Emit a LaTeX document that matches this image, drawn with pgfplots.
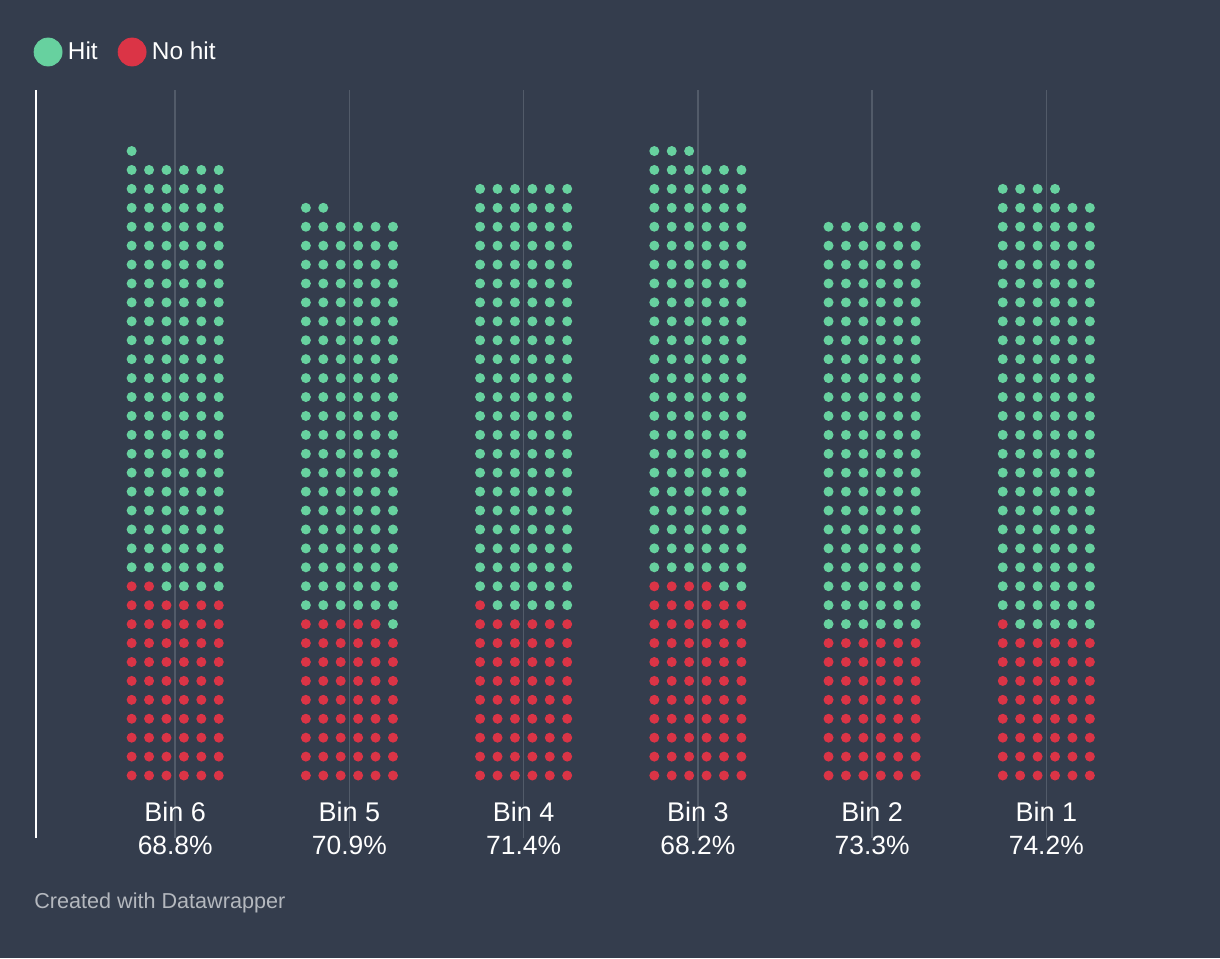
\documentclass[border=0pt]{standalone}
\usepackage{pgfplots}
\pgfplotsset{compat=1.18}
\usepackage{fontspec}
\setmainfont{Liberation Sans}
\definecolor{bg}{HTML}{343D4D}
\definecolor{hit}{HTML}{67D19F}
\definecolor{nohit}{HTML}{DB3446}
\definecolor{gridc}{HTML}{525B69}
\definecolor{foot}{HTML}{B4B8BE}
\begin{document}
\begin{tikzpicture}
\begin{axis}[
  x=87.11pt, y=9.465pt,
  xmin=-1.0056, xmax=5.9970,
  ymin=-9.641, ymax=40.967,
  axis line style={draw=none},
  xtick=\empty, ytick=\empty,
  axis background/.style={fill=bg},
  clip=false,
  unbounded coords=jump,
  dots/.style={line width=5pt, line cap=round, dash pattern=on 0pt off 9.46pt},
  legend columns=2,
  legend style={at={(axis cs:-0.8122,38.22)}, anchor=west, draw=none, fill=none,
    text=white, font=\fontsize{12.2}{14}\selectfont, inner sep=0pt, outer sep=0pt,
    nodes={inner sep=0pt},
    /tikz/every odd column/.append style={column sep=2.7pt},
    /tikz/every even column/.append style={column sep=10pt}},
]
% vertical guides
\pgfplotsinvokeforeach{0,...,5}{
  \draw[gridc, line width=0.75pt] (axis cs:#1,-3.30) -- (axis cs:#1,36.21);
}
\draw[white, line width=1pt] (axis cs:-0.8007,-3.30) -- (axis cs:-0.8007,36.21);

% Hit dots: each segment is one column of dots, from its first row to its last row
\addplot[hit, dots, forget plot] coordinates {
 (-0.25,11) (-0.25,33) (nan,nan) (-0.15,11) (-0.15,32) (nan,nan)
 (-0.05,10) (-0.05,32) (nan,nan) (0.05,10) (0.05,32) (nan,nan)
 (0.15,10) (0.15,32) (nan,nan) (0.25,10) (0.25,32) (nan,nan)
 (0.75,9) (0.75,30) (nan,nan) (0.85,9) (0.85,30) (nan,nan)
 (0.95,9) (0.95,29) (nan,nan) (1.05,9) (1.05,29) (nan,nan)
 (1.15,9) (1.15,29) (nan,nan) (1.25,8) (1.25,29) (nan,nan)
 (1.75,10) (1.75,31) (nan,nan) (1.85,9) (1.85,31) (nan,nan)
 (1.95,9) (1.95,31) (nan,nan) (2.05,9) (2.05,31) (nan,nan)
 (2.15,9) (2.15,31) (nan,nan) (2.25,9) (2.25,31) (nan,nan)
 (2.75,11) (2.75,33) (nan,nan) (2.85,11) (2.85,33) (nan,nan)
 (2.95,11) (2.95,33) (nan,nan) (3.05,11) (3.05,32) (nan,nan)
 (3.15,10) (3.15,32) (nan,nan) (3.25,10) (3.25,32) (nan,nan)
 (3.75,8) (3.75,29) (nan,nan) (3.85,8) (3.85,29) (nan,nan)
 (3.95,8) (3.95,29) (nan,nan) (4.05,8) (4.05,29) (nan,nan)
 (4.15,8) (4.15,29) (nan,nan) (4.25,8) (4.25,29) (nan,nan)
 (4.75,9) (4.75,31) (nan,nan) (4.85,8) (4.85,31) (nan,nan)
 (4.95,8) (4.95,31) (nan,nan) (5.05,8) (5.05,31) (nan,nan)
 (5.15,8) (5.15,30) (nan,nan) (5.25,8) (5.25,30)
};
% No-hit dots
\addplot[nohit, dots, forget plot] coordinates {
 (-0.25,0) (-0.25,10) (nan,nan) (-0.15,0) (-0.15,10) (nan,nan)
 (-0.05,0) (-0.05,9) (nan,nan) (0.05,0) (0.05,9) (nan,nan)
 (0.15,0) (0.15,9) (nan,nan) (0.25,0) (0.25,9) (nan,nan)
 (0.75,0) (0.75,8) (nan,nan) (0.85,0) (0.85,8) (nan,nan)
 (0.95,0) (0.95,8) (nan,nan) (1.05,0) (1.05,8) (nan,nan)
 (1.15,0) (1.15,8) (nan,nan) (1.25,0) (1.25,7) (nan,nan)
 (1.75,0) (1.75,9) (nan,nan) (1.85,0) (1.85,8) (nan,nan)
 (1.95,0) (1.95,8) (nan,nan) (2.05,0) (2.05,8) (nan,nan)
 (2.15,0) (2.15,8) (nan,nan) (2.25,0) (2.25,8) (nan,nan)
 (2.75,0) (2.75,10) (nan,nan) (2.85,0) (2.85,10) (nan,nan)
 (2.95,0) (2.95,10) (nan,nan) (3.05,0) (3.05,10) (nan,nan)
 (3.15,0) (3.15,9) (nan,nan) (3.25,0) (3.25,9) (nan,nan)
 (3.75,0) (3.75,7) (nan,nan) (3.85,0) (3.85,7) (nan,nan)
 (3.95,0) (3.95,7) (nan,nan) (4.05,0) (4.05,7) (nan,nan)
 (4.15,0) (4.15,7) (nan,nan) (4.25,0) (4.25,7) (nan,nan)
 (4.75,0) (4.75,8) (nan,nan) (4.85,0) (4.85,7) (nan,nan)
 (4.95,0) (4.95,7) (nan,nan) (5.05,0) (5.05,7) (nan,nan)
 (5.15,0) (5.15,7) (nan,nan) (5.25,0) (5.25,7)
};

\addlegendimage{hit, legend image code/.code={\fill (7pt,0pt) circle[radius=7pt];}}
\addlegendentry{Hit}
\addlegendimage{nohit, legend image code/.code={\fill (7pt,0pt) circle[radius=7pt];}}
\addlegendentry{No hit}

% category labels
\tikzset{binlab/.style={anchor=base, text=white, inner sep=0pt, font=\fontsize{13.5}{16}\selectfont},
         pctlab/.style={anchor=base, text=white, inner sep=0pt, font=\fontsize{13.2}{16}\selectfont}}
\node[binlab] at (axis cs:0,-2.44) {Bin 6};
\node[binlab] at (axis cs:1,-2.44) {Bin 5};
\node[binlab] at (axis cs:2,-2.44) {Bin 4};
\node[binlab] at (axis cs:3,-2.44) {Bin 3};
\node[binlab] at (axis cs:4,-2.44) {Bin 2};
\node[binlab] at (axis cs:5,-2.44) {Bin 1};
\node[pctlab] at (axis cs:0,-4.163) {68.8\%};
\node[pctlab] at (axis cs:1,-4.163) {70.9\%};
\node[pctlab] at (axis cs:2,-4.163) {71.4\%};
\node[pctlab] at (axis cs:3,-4.163) {68.2\%};
\node[pctlab] at (axis cs:4,-4.163) {73.3\%};
\node[pctlab] at (axis cs:5,-4.163) {74.2\%};

\node[anchor=base west, text=foot, inner sep=0pt, font=\fontsize{10.8}{13}\selectfont]
  at (axis cs:-0.8106,-7.015) {Created with Datawrapper};
\end{axis}
\end{tikzpicture}
\end{document}
